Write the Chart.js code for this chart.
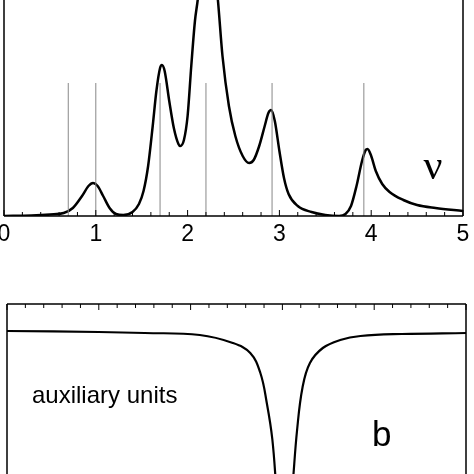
<!DOCTYPE html>
<html><head><meta charset="utf-8">
<script src="https://cdn.jsdelivr.net/npm/chart.js@4.4.0/dist/chart.umd.min.js"></script>
<style>html,body{margin:0;padding:0;background:#fff;overflow:hidden;width:474px;height:474px}
#w1{position:absolute;left:0;top:0;width:474px;height:250px}
#w2{position:absolute;left:0;top:300px;width:474px;height:250px}</style>
</head><body>
<div id="w1"><canvas id="c1"></canvas></div>
<div id="w2"><canvas id="c2"></canvas></div>
<script>
const topX=[0,0.3,0.5,0.65,0.75,0.85,0.92,0.97,1.02,1.08,1.15,1.22,1.3,1.4,1.47,1.52,1.57,1.62,1.66,1.7,1.72,1.75,1.8,1.85,1.9,1.92,1.96,2.0,2.04,2.08,2.11,2.16,2.22,2.28,2.33,2.38,2.45,2.52,2.6,2.67,2.72,2.78,2.84,2.88,2.91,2.95,3.0,3.05,3.1,3.2,3.35,3.5,3.65,3.72,3.78,3.84,3.9,3.94,3.96,4.0,4.05,4.12,4.2,4.35,4.5,4.7,5];
const topY=[0,0.5,1.5,3,8,20,30,33,30,20,8,2,1,4,12,25,50,90,125,148,151,145,115,88,72,70,76,100,150,195,216,260,285,260,216,160,110,80,60,53,56,70,90,103,106,95,65,38,22,10,4,1,0,2,10,30,55,66,67,60,45,32,24,16,11,8,5];
const lineX=[0.7,1.0,1.7,2.2,2.92,3.92];
const lineH=133;
const botX=[0,1,1.5,2.1,2.46,2.65,2.76,2.83,2.89,2.95,3.015,3.09,3.16,3.22,3.30,3.44,3.63,3.85,4.3,5];
const botY=[27,28,29,31,39,49,69,99,135,200,240,200,126,83,59,44,36,32,30,29];
const tickLabels=['0','1','2','3','4','5'];

function frame(edge){return {id:'frame',afterDraw(ch){
 const c=ch.ctx,a=ch.chartArea,xs=ch.scales.x;c.save();
 c.strokeStyle='#000';c.lineWidth=1.5;c.beginPath();
 c.moveTo(a.left,a.top);c.lineTo(a.left,a.bottom);
 c.moveTo(a.right,a.top);c.lineTo(a.right,a.bottom);
 const yb=edge==='bottom'?a.bottom:a.top;
 c.moveTo(a.left,yb);c.lineTo(a.right,yb);c.stroke();
 c.lineWidth=1;c.beginPath();
 for(let i=0;i<=25;i++){const v=i*0.2,px=xs.getPixelForValue(v);const L=(i%5===0)?6:4;
  if(edge==='bottom'){c.moveTo(px,yb);c.lineTo(px,yb-L);}else{c.moveTo(px,yb);c.lineTo(px,yb+L);}}
 c.stroke();
 if(edge==='bottom'){c.fillStyle='#000';c.font='23px "Liberation Sans", Arial';c.textAlign='center';c.textBaseline='top';
  tickLabels.forEach((t,i)=>c.fillText(t,xs.getPixelForValue(i),a.bottom+7));
  c.font='42px "Liberation Serif", serif';c.textBaseline='middle';c.fillText('ν',433,168);}
 else{c.fillStyle='#000';c.textAlign='left';c.textBaseline='middle';c.font='24px "Liberation Sans", Arial';
  c.fillText('auxiliary units',32,96);c.font='35px "Liberation Sans", Arial';c.fillText('b',372,136);}
 c.restore();}};}

const ds1=[{data:topX.map((x,i)=>({x,y:topY[i]})),borderColor:'#000',borderWidth:2.5,pointRadius:0,cubicInterpolationMode:'monotone'}];
lineX.forEach(x=>ds1.unshift({data:[{x,y:0},{x,y:lineH}],borderColor:'#888',borderWidth:1,pointRadius:0}));
new Chart(document.getElementById('c1'),{type:'line',data:{datasets:ds1},
 options:{responsive:true,maintainAspectRatio:false,animation:false,layout:{padding:{left:4,right:11,top:0,bottom:34}},
 plugins:{legend:{display:false},tooltip:{enabled:false}},
 scales:{x:{type:'linear',min:0,max:5,display:false},y:{min:0,max:216,display:false}}},plugins:[frame('bottom')]});

new Chart(document.getElementById('c2'),{type:'line',data:{datasets:[{data:botX.map((x,i)=>({x,y:botY[i]})),borderColor:'#000',borderWidth:2.2,pointRadius:0,tension:0.4}]},
 options:{responsive:true,maintainAspectRatio:false,animation:false,layout:{padding:{left:7,right:8,top:4,bottom:0}},
 plugins:{legend:{display:false},tooltip:{enabled:false}},
 scales:{x:{type:'linear',min:0,max:5,display:false},y:{min:0,max:246,reverse:true,display:false}}},plugins:[frame('top')]});
</script></body></html>
